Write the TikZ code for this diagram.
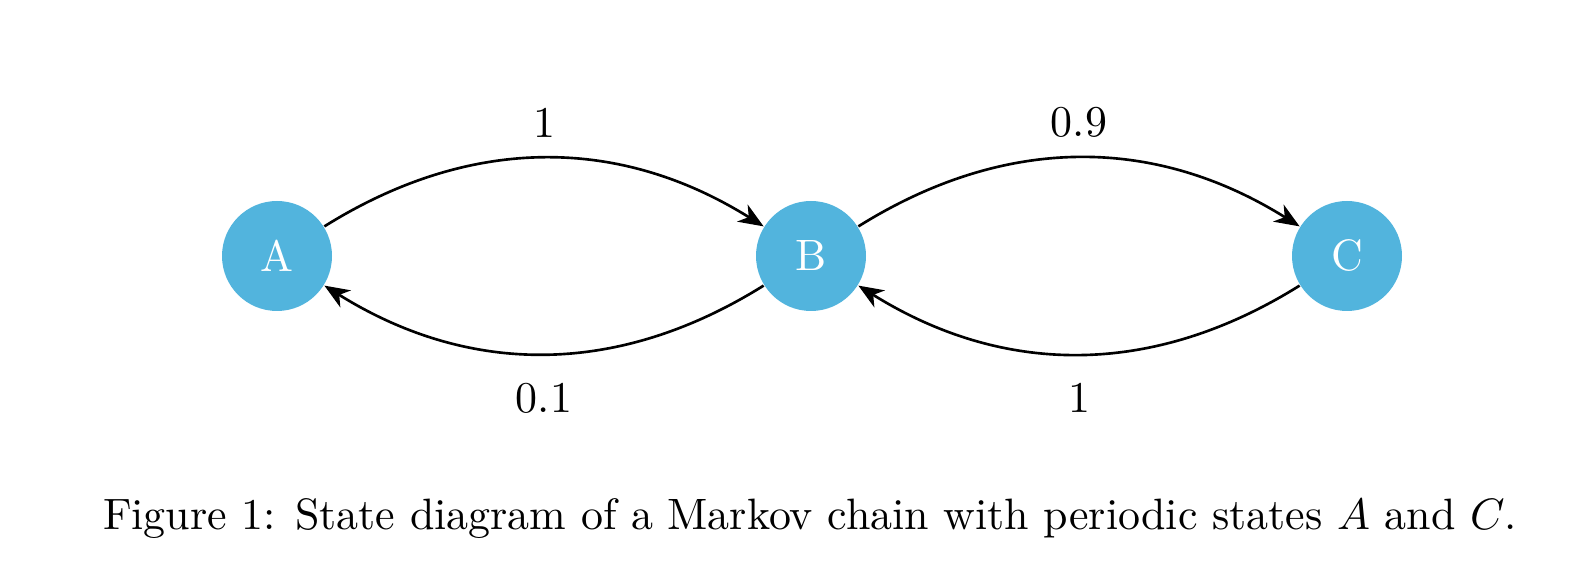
\documentclass[tikz,border=0pt]{standalone}
\usetikzlibrary{arrows.meta}
\definecolor{stc}{RGB}{82,180,221}
\begin{document}
\begin{tikzpicture}[
  st/.style={circle,fill=stc,draw=none,minimum size=0.88cm,inner sep=0pt,text=white},
  tr/.style={-{Stealth[length=2mm,width=1.6mm,inset=0.6mm]},semithick}]
\useasboundingbox (0,0) rectangle (12.592,4.608);
\node[st] (A) at (2.216,2.56) {A};
\node[st] (B) at (6.488,2.56) {B};
\node[st] (C) at (10.776,2.56) {C};
\draw[tr] (A) to[bend left=32] node[above=1pt] (l1) {1} (B);
\draw[tr] (B) to[bend left=32] node[above=1pt] (l2) {0.9} (C);
\draw[tr] (C) to[bend left=32] node[below=3pt] (l3) {1} (B);
\draw[tr] (B) to[bend left=32] node[below=3pt] (l4) {0.1} (A);
\node (cap) at (6.48,0.46) {Figure 1: State diagram of a Markov chain with periodic states $A$ and $C$.};
\end{tikzpicture}
\end{document}
